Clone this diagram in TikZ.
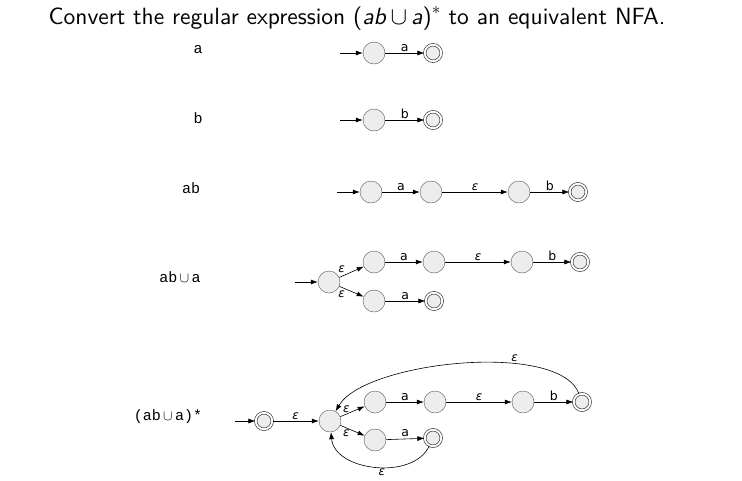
\documentclass[tikz,border=0pt]{standalone}
\usepackage{amssymb, amsmath}
\usepackage{fontspec}
\usepackage{tikz}
\usetikzlibrary{automata,arrows,arrows.meta,shapes}
\usepackage{xcolor}
\newfontfamily\lblfont{DejaVu Sans}
\newfontfamily\exprfont{Liberation Mono}
\newfontfamily\titlefont{lmsans10-regular.otf}[ItalicFont=lmsans10-oblique.otf]

\begin{document}
\begin{tikzpicture}[x=1pt, y=-1pt, >={Latex[length=7pt,width=5pt]}, main node/.style={circle, draw=black!65, fill=black!7, minimum size=22pt, inner sep=0pt}, final node/.style={main node, draw=black!75, line width=0.7pt, minimum size=16.5pt, double, double distance=1.8pt}, lbl/.style={font=\lblfont\fontsize{12.5}{14}\selectfont, inner sep=1.5pt}, eps/.style={lbl, font=\lblfont\itshape\fontsize{12}{14}\selectfont}, expr/.style={font=\exprfont\fontsize{15}{17}\selectfont}]
\useasboundingbox (0,0) rectangle (742,480);
\node[anchor=base] (title) at (357,24) {\titlefont\fontsize{23.5}{28}\selectfont Convert the regular expression (\textit{ab}\,$\cup$\,\textit{a})$^*$ to an equivalent NFA.};
% a
\node[expr] (ea) at (198,50) {a};
\coordinate (i1) at (340,53);
\node[main node] (1) at (374,53) {};
\node[final node] (2) at (433,53) {};
% b
\node[expr] (eb) at (198,118) {b};
\coordinate (i2) at (340,120);
\node[main node] (3) at (374,120) {};
\node[final node] (4) at (433,120) {};
% ab
\node[expr] (eab) at (191,188) {ab};
\coordinate (i3) at (337,192);
\node[main node] (5) at (371,192) {};
\node[main node] (6) at (431,192) {};
\node[main node] (7) at (519,192) {};
\node[final node] (8) at (578,192) {};
% ab u a
\node[expr] (eu) at (180,277) {ab$\,\cup\,$a};
\coordinate (i4) at (295,282);
\node[main node] (9) at (329,282) {};
\node[main node] (10) at (374,262) {};
\node[main node] (11) at (434,262) {};
\node[main node] (12) at (522,262) {};
\node[final node] (13) at (580,262) {};
\node[main node] (14) at (374,301) {};
\node[final node] (15) at (434,301) {};
% (ab u a)*
\node[expr] (es) at (168,417) {(ab$\,\cup\,$a)*};
\coordinate (i5) at (235,421);
\node[final node] (16) at (264,421) {};
\node[main node] (17) at (330,421) {};
\node[main node] (18) at (375,402) {};
\node[main node] (19) at (435,402) {};
\node[main node] (20) at (523,402) {};
\node[final node] (21) at (582,402) {};
\node[main node] (22) at (375,440) {};
\node[final node] (23) at (433,438) {};
\path[->, line width=0.6pt]
(i1) edge (1)
(1) edge node[lbl, above] {a} (2)
(i2) edge (3)
(3) edge node[lbl, above] {b} (4)
(i3) edge (5)
(5) edge node[lbl, above] {a} (6)
(6) edge node[eps, above] {ε} (7)
(7) edge node[lbl, above] {b} (8)
(i4) edge (9)
(9) edge node[eps, above left, pos=0.3] {ε} (10)
(9) edge node[eps, below left, pos=0.3] {ε} (14)
(10) edge node[lbl, above] {a} (11)
(11) edge node[eps, above] {ε} (12)
(12) edge node[lbl, above] {b} (13)
(14) edge node[lbl, above] {a} (15)
(i5) edge (16)
(16) edge node[eps, above] {ε} (17)
(17) edge node[eps, above, pos=0.25] {ε} (18)
(17) edge node[eps, below, pos=0.25] {ε} (22)
(18) edge node[lbl, above] {a} (19)
(19) edge node[eps, above] {ε} (20)
(20) edge node[lbl, above] {b} (21)
(22) edge node[lbl, above] {a} (23)
(21) edge[out=110, in=60, looseness=0.6] node[eps, above, pos=0.33] {ε} (17)
(23) edge[out=-115, in=-85, looseness=1.0] node[eps, below, pos=0.45] {ε} (17);
\end{tikzpicture}
\end{document}
